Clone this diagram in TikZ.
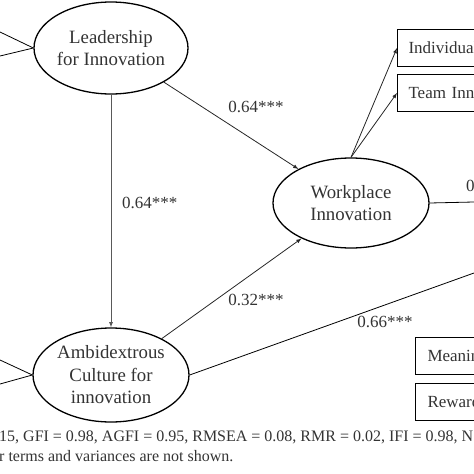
\documentclass[tikz,border=0pt]{standalone}
\usepackage{fontspec}
\setmainfont{Liberation Serif}
\usepackage{tikz}
\usetikzlibrary{positioning,arrows,shapes.geometric}

\begin{document}
\begin{tikzpicture}[x=1pt,y=-1pt,>=latex,
	every node/.style={text=black!80,font=\fontsize{17}{22}\selectfont},
	latent/.style={ellipse,draw,line width=1.3pt,inner sep=0pt,align=center,font=\fontsize{18.8}{22.5}\selectfont},
	indic/.style={draw,line width=1pt,minimum height=37pt,text width=100pt,inner xsep=11pt,inner ysep=0pt,align=left,anchor=west},
	path/.style={->,thick,black!85},
	lbl/.style={inner sep=1pt}]

		\useasboundingbox (0,0) rectangle (474,474);

		%latent variables
		\node[latent,minimum width=154pt,minimum height=92pt] (lead) at (111,48) {Leadership\\for Innovation};
		\node[latent,minimum width=156pt,minimum height=90pt] (wp) at (351,203) {Workplace\\Innovation};
		\node[latent,minimum width=156pt,minimum height=94pt] (amb) at (111,375) {Ambidextrous\\Culture for\\innovation};

		%indicator boxes
		\node[indic] (ind) at (397,48) {Individual};
		\node[indic] (team) at (397,93) {Team Inno};
		\node[indic,inner xsep=12pt] (mean) at (415,356) {Meanin};
		\node[indic,inner xsep=12pt] (rew) at (415,402) {Reward};

		%free ends
		\coordinate (l1) at (0,32);
		\coordinate (l2) at (0,56);
		\coordinate (a1) at (0,360);
		\coordinate (a2) at (0,384);
		\coordinate (r0) at (474,202);
		\coordinate (r1) at (474,273);

		%edges
		\draw[path] (lead) -- (wp);
		\draw[path] (amb) -- (wp);
		\draw[path,black!65] (lead.south) -- (amb.north);
		\draw[path] (wp.north) -- (ind.west);
		\draw[path] (wp.north) -- (team.west);
		\draw[thick] (wp.east) -- (r0);
		\draw[thick] (amb.east) -- (r1);
		\draw[thick] (lead.west) -- (l1);
		\draw[thick] (lead.west) -- (l2);
		\draw[thick] (amb.west) -- (a1);
		\draw[thick] (amb.west) -- (a2);

		%coefficients
		\node[lbl,anchor=west] (c1) at (121,203) {0.64***};
		\node[lbl] (c2) at (256,107) {0.64***};
		\node[lbl] (c3) at (256,300) {0.32***};
		\node[lbl] (c4) at (385,322) {0.66***};
		\node[lbl,anchor=west] (c5) at (465,186) {0};

		%fit note
		\node[anchor=base west,inner sep=0pt,font=\fontsize{16}{20}\selectfont] (fit1) at (-1,441) {15, GFI = 0.98, AGFI = 0.95, RMSEA = 0.08, RMR = 0.02, IFI = 0.98, N};
		\node[anchor=base west,inner sep=0pt,font=\fontsize{16}{20}\selectfont] (fit2) at (-1,461) {r terms and variances are not shown.};

\end{tikzpicture}
\end{document}
